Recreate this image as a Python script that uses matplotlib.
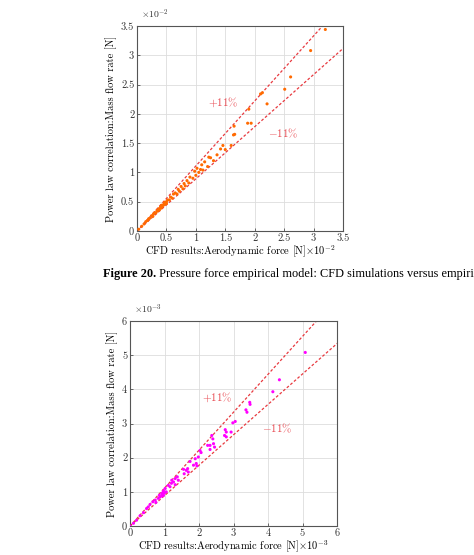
import matplotlib
matplotlib.use("Agg")
import matplotlib.pyplot as plt

plt.rcParams['font.family'] = 'serif'
plt.rcParams['font.serif'] = ['cmr10']
plt.rcParams['mathtext.fontset'] = 'cm'
plt.rcParams['axes.unicode_minus'] = False
plt.rcParams['axes.formatter.use_mathtext'] = True

# ---- top chart data (x1e-2) ----
top_x = [0.03, 0.08, 0.12, 0.15, 0.18, 0.2, 0.22, 0.25, 0.27, 0.28, 0.3, 0.32, 0.34, 0.35,
         0.37, 0.38, 0.4, 0.41, 0.42, 0.43, 0.45, 0.46, 0.47, 0.48, 0.5, 0.5, 0.52, 0.55,
         0.57, 0.6, 0.62, 0.65, 0.68, 0.7, 0.72, 0.75, 0.78, 0.8, 0.82, 0.85, 0.88, 0.9,
         0.95, 0.98, 1.0, 1.02, 1.05, 1.08, 1.1, 1.12, 1.15, 1.2, 1.22, 1.25, 1.3, 1.36,
         1.42, 1.46, 1.5, 1.6, 1.64, 1.66, 1.65, 1.88, 1.94, 1.9, 2.1, 2.13, 2.21, 2.51,
         2.61, 2.95, 3.2]
top_y = [0.03, 0.08, 0.12, 0.16, 0.18, 0.21, 0.22, 0.26, 0.25, 0.29, 0.31, 0.31, 0.35, 0.34,
         0.38, 0.36, 0.41, 0.39, 0.44, 0.42, 0.44, 0.47, 0.49, 0.46, 0.5, 0.47, 0.53, 0.53,
         0.58, 0.56, 0.63, 0.65, 0.63, 0.71, 0.68, 0.76, 0.72, 0.81, 0.77, 0.86, 0.82, 0.92,
         0.9, 1.02, 0.95, 1.07, 1.0, 1.05, 1.13, 1.04, 1.18, 1.1, 1.26, 1.25, 1.2, 1.3,
         1.4, 1.46, 1.39, 1.46, 1.64, 1.65, 1.79, 1.84, 1.84, 2.08, 2.34, 2.36, 2.17, 2.42,
         2.63, 3.08, 3.44]

# ---- bottom chart data (x1e-3) ----
bot_x = [0.0, 0.1, 0.19, 0.29, 0.39, 0.48, 0.53, 0.58, 0.66, 0.73, 0.75, 0.82, 0.85, 0.87,
         0.92, 0.93, 0.95, 0.97, 0.97, 1.0, 1.02, 1.05, 1.11, 1.16, 1.2, 1.21, 1.26, 1.31,
         1.31, 1.37, 1.4, 1.55, 1.57, 1.63, 1.67, 1.69, 1.74, 1.84, 1.89, 1.92, 1.94, 1.98,
         2.03, 2.06, 2.25, 2.32, 2.32, 2.37, 2.4, 2.42, 2.45, 2.74, 2.76, 2.79, 2.79, 2.93,
         2.98, 3.05, 3.36, 3.39, 3.47, 3.48, 4.14, 4.33, 5.08]
bot_y = [0.0, 0.08, 0.17, 0.3, 0.39, 0.51, 0.56, 0.63, 0.71, 0.76, 0.69, 0.81, 0.9, 0.85,
         0.95, 0.88, 0.98, 1.03, 0.9, 0.97, 1.1, 1.0, 1.19, 1.15, 1.25, 1.34, 1.29, 1.39,
         1.21, 1.44, 1.34, 1.66, 1.53, 1.63, 1.68, 1.58, 1.89, 1.78, 1.97, 1.83, 1.76, 2.02,
         2.21, 2.15, 2.36, 2.36, 2.24, 2.65, 2.55, 2.41, 2.31, 2.65, 2.82, 2.75, 2.61, 2.75,
         3.02, 3.06, 3.4, 3.33, 3.62, 3.56, 3.93, 4.28, 5.08]

top_ticks = [0, 0.5, 1, 1.5, 2, 2.5, 3, 3.5]
top_ticklabels = ['0', '0.5', '1', '1.5', '2', '2.5', '3', '3.5']
bot_ticks = [0, 1, 2, 3, 4, 5, 6]
bot_ticklabels = ['0', '1', '2', '3', '4', '5', '6']
band = [1.11, 0.89]

caption_bold = 'Figure 20.'
caption_text = 'Pressure force empirical model: CFD simulations versus empiri'

LINE_C = '#e8393f'
TXT_C = '#e8474f'

fig = plt.figure(figsize=(4.74, 5.55), dpi=100)

def make(ax, xs, ys, color, ticks, labels, lim, exp, plus_pos, minus_pos):
    ax.set_xlim(0, lim)
    ax.set_ylim(0, lim)
    ax.set_xticks(ticks)
    ax.set_yticks(ticks)
    ax.set_xticklabels(labels)
    ax.set_yticklabels(labels)
    ax.grid(True, color='#dddddd', linewidth=0.6)
    ax.set_axisbelow(True)
    for s in ax.spines.values():
        s.set_color('#555555')
        s.set_linewidth(0.8)
    ax.tick_params(direction='in', length=2, width=0.5, labelsize=7.5, pad=2, colors='#333333')
    for k in band:
        ax.plot([0, lim * 1.2], [0, lim * 1.2 * k], linestyle=(0, (2.2, 1.6)),
                color=LINE_C, linewidth=0.9, zorder=2)
    ax.scatter(xs, ys, s=5, color=color, edgecolors='none', zorder=3)
    ax.text(plus_pos[0], plus_pos[1], r'$+11\%$', color=TXT_C, fontsize=8,
            ha='center', va='center')
    ax.text(minus_pos[0], minus_pos[1], r'$-11\%$', color=TXT_C, fontsize=8,
            ha='center', va='center')
    ax.set_xlabel(r'CFD results:Aerodynamic force [N]$\times10^{-%d}$' % exp, fontsize=7.5,
                  labelpad=0.5)
    ax.set_ylabel('Power law correlation:Mass flow rate [N]', fontsize=7.5, labelpad=3)
    ax.text(0.02, 1.025, r'$\times10^{-%d}$' % exp, transform=ax.transAxes, fontsize=7,
            ha='left', va='bottom', color='#333333')

ax1 = fig.add_axes([0.289, 0.5838, 0.4346, 0.3694])
make(ax1, top_x, top_y, '#ff6a00', top_ticks, top_ticklabels, 3.5, 2, (1.47, 2.19), (2.48, 1.67))

ax2 = fig.add_axes([0.2743, 0.0522, 0.4367, 0.3694])
make(ax2, bot_x, bot_y, '#ff00ff', bot_ticks, bot_ticklabels, 6, 3, (2.52, 3.77), (4.26, 2.86))

# caption: fit size so the line spans the reference extent (x = 103 .. 472 px)
W = fig.bbox.width
fig.canvas.draw()
r = fig.canvas.get_renderer()
probe_b = fig.text(0, 0, caption_bold, fontsize=10, fontweight='bold', family='Liberation Serif')
probe_t = fig.text(0, 0, ' ' + caption_text, fontsize=10, family='Liberation Serif')
wb = probe_b.get_window_extent(r).width
wt = probe_t.get_window_extent(r).width
probe_b.remove()
probe_t.remove()
fs = 10 * (472.0 - 103.0) / (wb + wt)
tb = fig.text(103 / W, 0.506, caption_bold, fontsize=fs, fontweight='bold',
              family='Liberation Serif', ha='left', va='center')
x2 = 103 + wb * fs / 10
fig.text(x2 / W, 0.506, ' ' + caption_text, fontsize=fs, family='Liberation Serif',
         ha='left', va='center')

fig.savefig('out.png', dpi=100)
